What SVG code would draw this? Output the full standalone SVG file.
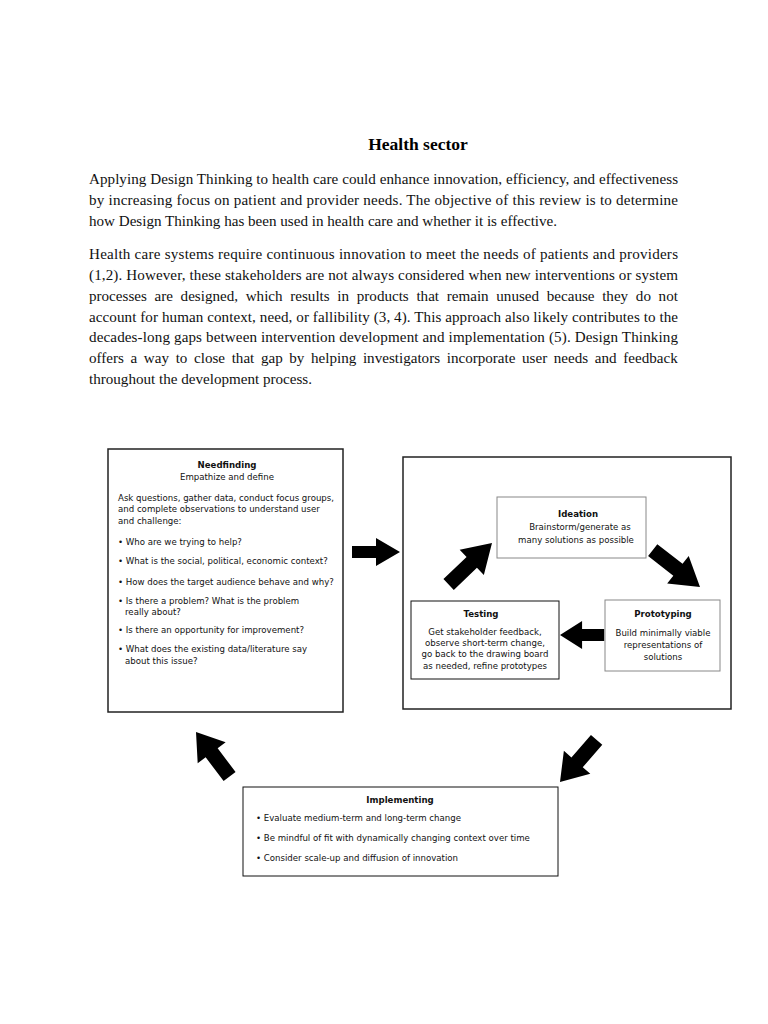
<svg xmlns="http://www.w3.org/2000/svg" width="768" height="1024" viewBox="0 0 768 1024">
<style>
.title{font-family:"Liberation Serif","Times New Roman",serif;font-size:17.5px;font-weight:bold;fill:#000}
.body{font-family:"Liberation Serif","Times New Roman",serif;font-size:15.1px;fill:#111}
.d{font-family:"DejaVu Sans",Verdana,sans-serif;font-size:8.6px;fill:#111}
.db{font-family:"DejaVu Sans",Verdana,sans-serif;font-size:8.6px;font-weight:bold;fill:#111}
.c{text-anchor:middle}
.box{fill:#fff;stroke:#222;stroke-width:1.5}
.thin{fill:#fff;stroke:#111;stroke-width:1}
.gray{fill:#fff;stroke:#888;stroke-width:1}
.arr{fill:#000}
</style>
<defs>
<path id="ha" d="M-48,-6 L-24,-6 L-24,-14 L0,0 L-24,14 L-24,6 L-48,6 Z"/>
<path id="da" d="M-60,-7.5 L-28,-7.5 L-28,-17.5 L0,0 L-28,17.5 L-28,7.5 L-60,7.5 Z"/>
</defs>
<rect width="768" height="1024" fill="#fff"/>
<text class="title c" x="418" y="150">Health sector</text>
<g class="body">
<text x="89" y="184" textLength="589" lengthAdjust="spacing">Applying Design Thinking to health care could enhance innovation, efficiency, and effectiveness</text>
<text x="89" y="205" textLength="589" lengthAdjust="spacing">by increasing focus on patient and provider needs. The objective of this review is to determine</text>
<text x="89" y="226">how Design Thinking has been used in health care and whether it is effective.</text>
<text x="89" y="259" textLength="589" lengthAdjust="spacing">Health care systems require continuous innovation to meet the needs of patients and providers</text>
<text x="89" y="280" textLength="589" lengthAdjust="spacing">(1,2). However, these stakeholders are not always considered when new interventions or system</text>
<text x="89" y="301" word-spacing="3.9">processes are designed, which results in products that remain unused because they do not</text>
<text x="89" y="322" textLength="589" lengthAdjust="spacing">account for human context, need, or fallibility (3, 4). This approach also likely contributes to the</text>
<text x="89" y="342" textLength="589" lengthAdjust="spacing">decades-long gaps between intervention development and implementation (5). Design Thinking</text>
<text x="89" y="363" word-spacing="2.85">offers a way to close that gap by helping investigators incorporate user needs and feedback</text>
<text x="89" y="384">throughout the development process.</text>
</g>
<g id="needfinding">
<rect class="box" x="108" y="449" width="235" height="263"/>
<text class="db c" x="227" y="468">Needfinding</text>
<text class="d c" x="227" y="480">Empathize and define</text>
<text class="d" x="118" y="501">Ask questions, gather data, conduct focus groups,</text>
<text class="d" x="118" y="512">and complete observations to understand user</text>
<text class="d" x="118" y="524">and challenge:</text>
<text class="d" x="118" y="545">• Who are we trying to help?</text>
<text class="d" x="118" y="564">• What is the social, political, economic context?</text>
<text class="d" x="118" y="585">• How does the target audience behave and why?</text>
<text class="d" x="118" y="604">• Is there a problem? What is the problem</text>
<text class="d" x="125" y="615">really about?</text>
<text class="d" x="118" y="633">• Is there an opportunity for improvement?</text>
<text class="d" x="118" y="652">• What does the existing data/literature say</text>
<text class="d" x="125" y="664">about this issue?</text>
</g>
<g id="iteration">
<rect class="box" x="403" y="457" width="328" height="252"/>
</g>
<g id="ideation">
<rect class="gray" x="497" y="497" width="149" height="61"/>
<text class="db c" x="578" y="517">Ideation</text>
<text class="d c" x="580" y="530">Brainstorm/generate as</text>
<text class="d c" x="576" y="543">many solutions as possible</text>
</g>
<g id="testing">
<rect class="thin" x="411" y="601" width="148" height="78"/>
<text class="db c" x="481" y="617">Testing</text>
<text class="d c" x="485" y="635">Get stakeholder feedback,</text>
<text class="d c" x="485" y="646">observe short-term change,</text>
<text class="d c" x="485" y="657">go back to the drawing board</text>
<text class="d c" x="485" y="669">as needed, refine prototypes</text>
</g>
<g id="prototyping">
<rect class="gray" x="605" y="600" width="115" height="71"/>
<text class="db c" x="663" y="617">Prototyping</text>
<text class="d c" x="663" y="636">Build minimally viable</text>
<text class="d c" x="663" y="648">representations of</text>
<text class="d c" x="663" y="660">solutions</text>
</g>
<g id="implementing">
<rect class="thin" x="243" y="787" width="315" height="89" stroke="#333"/>
<text class="db c" x="400" y="803">Implementing</text>
<text class="d" x="256" y="821">• Evaluate medium-term and long-term change</text>
<text class="d" x="256" y="841">• Be mindful of fit with dynamically changing context over time</text>
<text class="d" x="256" y="861">• Consider scale-up and diffusion of innovation</text>
</g>
<g id="connectors" class="arr">
<use href="#ha" transform="translate(400,552)"/>
<use href="#ha" transform="translate(560,635) rotate(180) scale(0.92,1)"/>
<use href="#da" transform="translate(492,543) rotate(-43.7)"/>
<use href="#da" transform="translate(700,587) rotate(38)"/>
<use href="#da" transform="translate(196,732) rotate(-127) scale(0.93,1)"/>
<use href="#da" transform="translate(560,782) rotate(131) scale(0.93,1)"/>
</g>
</svg>
